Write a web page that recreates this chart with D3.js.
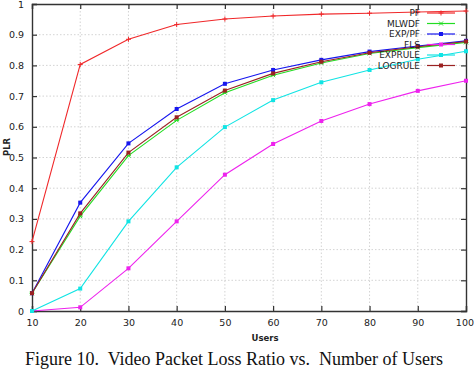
<!DOCTYPE html>
<html><head><meta charset="utf-8">
<script src="https://cdn.jsdelivr.net/npm/d3@7"></script>
<style>
body{margin:0;background:#fff;}
svg{display:block;}
</style></head>
<body>
<svg id="c" width="474" height="370"></svg>
<script>
const users = [10,20,30,40,50,60,70,80,90,100];
const seriesNames = ["PF","MLWDF","EXP/PF","FLS","EXPRULE","LOGRULE"];
const PF      = [0.226,0.803,0.885,0.933,0.951,0.961,0.967,0.970,0.974,0.977];
const MLWDF   = [0.058,0.309,0.506,0.621,0.711,0.768,0.808,0.839,0.858,0.875];
const EXPPF   = [0.058,0.353,0.546,0.658,0.740,0.785,0.818,0.845,0.863,0.880];
const FLS     = [0.0,0.012,0.139,0.292,0.444,0.544,0.619,0.674,0.717,0.750];
const EXPRULE = [0.0,0.073,0.292,0.468,0.599,0.687,0.745,0.785,0.820,0.846];
const LOGRULE = [0.058,0.318,0.516,0.631,0.718,0.774,0.812,0.841,0.861,0.878];
const xTicks = [10,20,30,40,50,60,70,80,90,100];
const yTicks = [0,0.1,0.2,0.3,0.4,0.5,0.6,0.7,0.8,0.9,1];
const yTickLabels = ["0","0.1","0.2","0.3","0.4","0.5","0.6","0.7","0.8","0.9","1"];
const colors = ["#f0282a","#22dd22","#1616ee","#ee22ee","#11e4e4","#9b2222"];
const markers = ["plus","cross","square","square","square","square"];
const xLabel = "Users", yLabel = "PLR";
const caption = "Figure 10.  Video Packet Loss Ratio vs.  Number of Users";

const allSeries = [PF,MLWDF,EXPPF,FLS,EXPRULE,LOGRULE];
const svg = d3.select("#c");
const L=32,R=466,T=4,B=311;
const x = d3.scaleLinear().domain([10,100]).range([L,R]);
const y = d3.scaleLinear().domain([0,1]).range([B,T]);
const font = "'DejaVu Sans', sans-serif";

// grid
const g = svg.append("g");
g.selectAll(".gx").data(xTicks.slice(1,-1)).join("line")
  .attr("x1",d=>x(d)).attr("x2",d=>x(d)).attr("y1",T).attr("y2",B)
  .attr("stroke","#c8c8c8").attr("stroke-width",0.8).attr("stroke-dasharray","1.5,2");
g.selectAll(".gy").data(yTicks.slice(1,-1)).join("line")
  .attr("x1",L).attr("x2",R).attr("y1",d=>y(d)).attr("y2",d=>y(d))
  .attr("stroke","#c8c8c8").attr("stroke-width",0.8).attr("stroke-dasharray","1.5,2");

// axes
const axB = d3.axisBottom(x).tickValues(xTicks).tickSize(-5).tickPadding(8).tickFormat(d3.format("d"));
const axT = d3.axisTop(x).tickValues(xTicks).tickSize(-5).tickFormat("");
const axL = d3.axisLeft(y).tickValues(yTicks).tickSize(-5).tickPadding(8).tickFormat((d,i)=>yTickLabels[i]);
const axR = d3.axisRight(y).tickValues(yTicks).tickSize(-5).tickFormat("");
function style(sel){
  sel.select(".domain").attr("stroke","#333").attr("stroke-width",1.4);
  sel.selectAll(".tick line").attr("stroke","#333").attr("stroke-width",1.2);
  sel.selectAll(".tick text").attr("fill","#222").style("font-family",font).style("font-size","9.5px");
}
const gB = svg.append("g").attr("transform",`translate(0,${B})`).call(axB).call(style);
gB.selectAll(".tick text").filter(d=>d===100).attr("text-anchor","end").attr("x",7.5);
svg.append("g").attr("transform",`translate(0,${T})`).call(axT).call(style);
svg.append("g").attr("transform",`translate(${L},0)`).call(axL).call(style);
svg.append("g").attr("transform",`translate(${R},0)`).call(axR).call(style);

// labels
svg.append("text").attr("x",(L+R)/2+16).attr("y",341).attr("text-anchor","middle")
  .style("font-family",font).style("font-size","8.5px").style("font-weight","bold").attr("fill","#222").text(xLabel);
svg.append("text").attr("transform","translate(10,147) rotate(-90)").attr("text-anchor","middle")
  .style("font-family",font).style("font-size","8.5px").style("font-weight","bold").attr("fill","#222").text(yLabel);

// lines
const line = d3.line().x((d,i)=>x(users[i])).y(d=>y(d));
function marker(sel,type,color){
  if(type==="square"){
    sel.append("rect").attr("x",-2).attr("y",-2).attr("width",4).attr("height",4).attr("fill",color);
  } else if(type==="plus"){
    sel.append("path").attr("d","M-2.5,0H2.5M0,-2.5V2.5").attr("stroke",color).attr("stroke-width",1);
  } else {
    sel.append("path").attr("d","M-2,-2L2,2M-2,2L2,-2M-2.5,0H2.5").attr("stroke",color).attr("stroke-width",1);
  }
}
allSeries.forEach((s,k)=>{
  svg.append("path").datum(s).attr("d",line).attr("fill","none")
    .attr("stroke",colors[k]).attr("stroke-width",1.1);
  s.forEach((v,i)=>{
    const m = svg.append("g").attr("transform",`translate(${x(users[i])},${y(v)})`);
    marker(m,markers[k],colors[k]);
  });
});

// legend
seriesNames.forEach((n,k)=>{
  const ly = 13 + k*10.5;
  svg.append("text").attr("x",420).attr("y",ly).attr("dy","0.35em").attr("text-anchor","end")
    .style("font-family",font).style("font-size","9px").attr("fill","#222").text(n);
  svg.append("line").attr("x1",427).attr("x2",455).attr("y1",ly).attr("y2",ly)
    .attr("stroke",colors[k]).attr("stroke-width",1.2);
  const m = svg.append("g").attr("transform",`translate(441,${ly})`);
  marker(m,markers[k],colors[k]);
});

// caption
svg.append("text").attr("x",234).attr("y",365).attr("text-anchor","middle")
  .style("font-family","'Liberation Serif', serif").style("font-size","18px")
  .style("white-space","pre").attr("fill","#111").text(caption);
</script>
</body></html>
